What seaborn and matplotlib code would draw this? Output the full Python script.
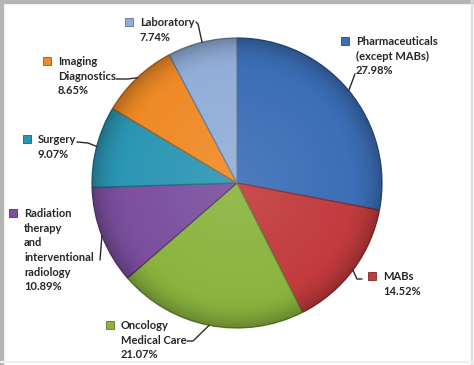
import matplotlib
matplotlib.use("Agg")
import matplotlib.pyplot as plt
import numpy as np
import seaborn as sns
from matplotlib.colors import to_rgb
from matplotlib.patches import Circle, Rectangle

# slices, clockwise from 12 o'clock
categories = ["Pharmaceuticals\n(except MABs)", "MABs", "Oncology\nMedical Care",
              "Radiation\ntherapy\nand\ninterventional\nradiology",
              "Surgery", "Imaging\nDiagnostics", "Laboratory"]
shares = [27.98, 14.52, 21.07, 10.89, 9.07, 8.65, 7.74]
share_labels = ["27.98%", "14.52%", "21.07%", "10.89%", "9.07%", "8.65%", "7.74%"]
colors = ["#3b6eb6", "#c23b3d", "#8ab43e", "#7a4f9e", "#2b96b4", "#ef8a26", "#92aed8"]

W, H = 474, 365
CX, CY, R = 237, 183, 145

# label layout in pixel coords: text left x, first line y, leader start points
label_pos = [
    (356, 41, [(355, 74)]),
    (383, 276, [(362, 279), (357, 279)]),
    (121, 325, [(187, 341), (193, 341)]),
    (24, 213, [(100, 260)]),
    (38, 139, [(77, 142), (88, 143)]),
    (58, 61, [(116, 79), (128, 79)]),
    (140, 22, [(196, 22), (198, 24)]),
]
LINE_H = 14.7


def py(y):
    return H - y


def shade(c, f):
    r, g, b = to_rgb(c)
    return (r * f, g * f, b * f)


sns.set_theme(style="white")
plt.rcParams['font.family'] = ['Lato', 'DejaVu Sans']

fig = plt.figure(figsize=(W / 100, H / 100), dpi=100)
ax = fig.add_axes([0, 0, 1, 1])

wedges, _ = ax.pie(shares, colors=colors, startangle=90, counterclock=False,
                   center=(CX, py(CY)), radius=R, frame=True,
                   wedgeprops=dict(linewidth=0.9))
for w, c in zip(wedges, colors):
    w.set_edgecolor(shade(c, 0.7))

# soft radial shading like the office chart style
n = 300
xs = np.linspace(-1, 1, n)
xx, yy = np.meshgrid(xs, xs)
rr = np.sqrt(xx ** 2 + yy ** 2)
light = np.zeros((n, n, 4))
light[..., :3] = 1.0
light[..., 3] = np.clip(0.1 * (1 - rr / 0.85), 0, 1)
dark = np.zeros((n, n, 4))
dark[..., 3] = np.clip(0.25 * ((rr - 0.78) / 0.22) ** 2, 0, 0.3) * (rr > 0.78)
ext = (CX - R, CX + R, py(CY) - R, py(CY) + R)
for img in (light, dark):
    im = ax.imshow(img, extent=ext, origin="lower", zorder=2, interpolation="bilinear")
    im.set_clip_path(Circle((CX, py(CY)), R, transform=ax.transData))

# labels with leader lines to slice edge
total = sum(shares)
start = 0.0
for name, val, pct, (tx, ty, pts), c in zip(categories, shares, share_labels, label_pos, colors):
    mid = start + val / 2
    start += val
    ang = np.deg2rad(90 - 360 * mid / total)
    ex, ey = CX + R * np.cos(ang), py(CY) + R * np.sin(ang)
    lx = [p[0] for p in pts] + [ex]
    ly = [py(p[1]) for p in pts] + [ey]
    ax.plot(lx, ly, color="#2a2a2a", lw=1.0, zorder=3)
    ax.plot(tx - 11, py(ty), marker="s", ms=5.2, color=c,
            mec=shade(c, 0.65), mew=0.6, zorder=4)
    lines = name.split("\n") + [pct]
    for i, line in enumerate(lines):
        ax.text(tx, py(ty + i * LINE_H + 4), line, fontsize=8, fontweight="bold",
                color="#262626", va="baseline", ha="left", zorder=4)

ax.set_xlim(0, W)
ax.set_ylim(0, H)
ax.set_aspect("auto")
ax.axis("off")

# gray frame around the picture
fig.add_artist(Rectangle((0, 1 - 3 / H), 1, 3 / H, transform=fig.transFigure, color="#b5b5b5"))
fig.add_artist(Rectangle((0, 0), 2.5 / W, 1, transform=fig.transFigure, color="#b5b5b5"))
fig.add_artist(Rectangle((471 / W, 0), 1 / W, 1, transform=fig.transFigure, color="#dcdcdc"))
fig.add_artist(Rectangle((0, 3 / H), 1, 1 / H, transform=fig.transFigure, color="#f0f0f0"))

fig.savefig("out.png", dpi=100, facecolor="white")
